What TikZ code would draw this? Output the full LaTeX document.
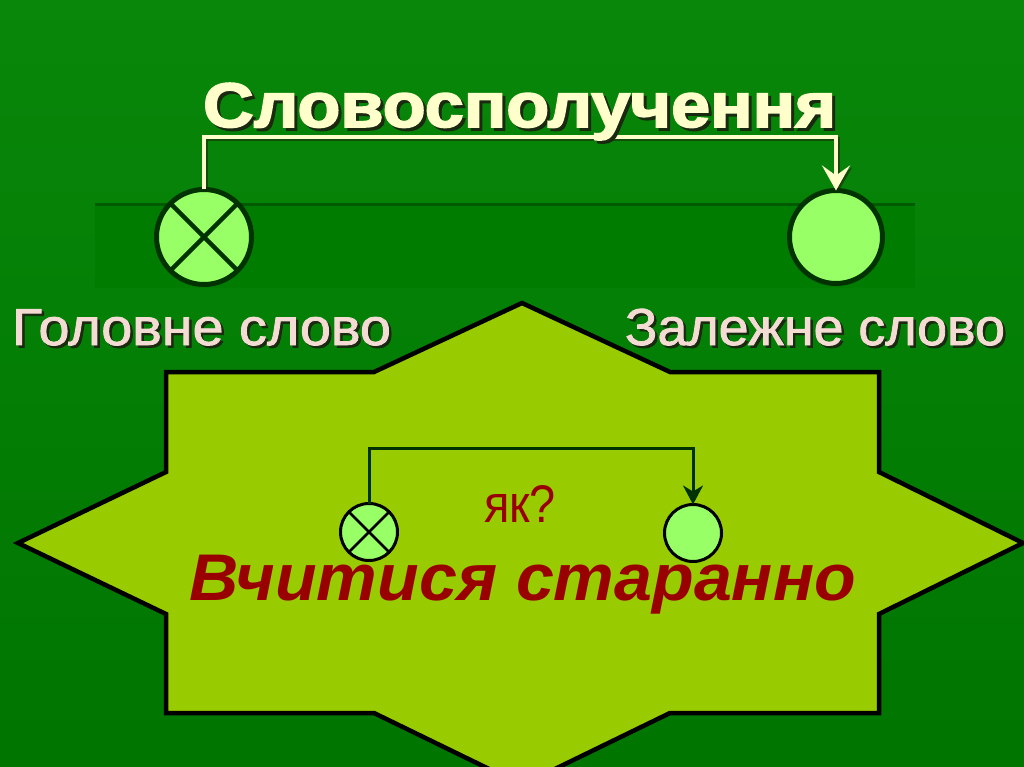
\documentclass[tikz,border=0pt]{standalone}
\usepackage{fontspec}
\setmainfont{Liberation Sans}
\newfontfamily\titlefont{Liberation Sans}[BoldFeatures={FakeBold=2.5}]
\newfontfamily\labelfont{Liberation Sans}[UprightFeatures={FakeBold=1.5}]
\usetikzlibrary{arrows.meta}
\definecolor{bgtop}{HTML}{08870A}
\definecolor{bgbot}{HTML}{007500}
\definecolor{bandc}{HTML}{007D00}
\definecolor{bandline}{HTML}{005A00}
\definecolor{starfill}{HTML}{99CC00}
\definecolor{circfill}{HTML}{99FF66}
\definecolor{circline}{HTML}{003300}
\definecolor{cream}{HTML}{FFFFCC}
\definecolor{pinkish}{HTML}{F4DCD4}
\definecolor{darkred}{HTML}{990000}
\definecolor{shadowc}{HTML}{1A2A10}
\newcommand\myfit[2]{\resizebox{#1}{\height}{#2}}
% text with a drop shadow: #1 offset, #2 colour, #3 text
\newcommand\shadowed[3]{\makebox[0pt][l]{\hspace*{#1}\raisebox{-#1}{\textcolor{shadowc}{#3}}}\textcolor{#2}{#3}}
\begin{document}
\begin{tikzpicture}[x=1pt,y=-1pt,
  txt/.style={anchor=base west,inner sep=0pt,outer sep=0pt},
  bigcirc/.style={circle,draw=circline,fill=circfill,line width=5pt,inner sep=0pt,outer sep=0pt,minimum size=95pt},
  smallcirc/.style={circle,draw=black,fill=circfill,line width=3pt,inner sep=0pt,outer sep=0pt,minimum size=57pt},
  bigcross/.style={draw=circline,line width=4.5pt},
  smallcross/.style={draw=black,line width=2.8pt},
  titleconn/.style={draw=cream,line width=4pt,-{Stealth[length=25pt,width=28pt,inset=10pt]}},
  titleshadow/.style={draw=shadowc,opacity=0.6,line width=4pt,-{Stealth[length=25pt,width=28pt,inset=10pt]}},
  smallconn/.style={draw=circline,line width=3pt,-{Stealth[length=19pt,width=20pt,inset=6pt]}},
  starshape/.style={fill=starfill,draw=black,line width=4.5pt,line join=miter}
]
\useasboundingbox (0,0) rectangle (1024,767);
\clip (0,0) rectangle (1024,767);
\shade[top color=bgtop,bottom color=bgbot] (0,0) rectangle (1024,767);
% darker band
\fill[bandc] (95,205) rectangle (915,288);
\draw[bandline,line width=3pt] (95,205) -- (915,205);
% star
\draw[starshape] (522,303) -- (670,372) -- (879,372) -- (879,472) -- (1023,543)
  -- (879,614) -- (879,713) -- (670,713) -- (522,785) -- (374,713) -- (166,713)
  -- (166,614) -- (18,543) -- (166,472) -- (166,372) -- (374,372) -- cycle;
% big circles
\node[bigcirc] (hw) at (204,237) {};
\node[bigcirc,minimum size=93pt] (dw) at (836,237) {};
\draw[bigcross] (hw.north west) -- (hw.south east);
\draw[bigcross] (hw.north east) -- (hw.south west);
% title connector
\coordinate (bar) at (204,137);
\draw[titleshadow] ([xshift=2pt,yshift=-2pt]hw.north) -- ([xshift=2pt,yshift=-2pt]hw.north |- bar) -| ([xshift=2pt,yshift=-2pt]dw.north);
\draw[titleconn] (hw.north) -- (hw.north |- bar) -| (dw.north);
% title
\node[txt] (title) at (203,127) {\shadowed{3pt}{cream}{\myfit{633pt}{\fontsize{63}{63}\selectfont\titlefont\bfseries Словосполучення}}};
% labels
\node[txt] (head) at (12,345) {\shadowed{2.5pt}{pinkish}{\myfit{379pt}{\fontsize{52}{52}\selectfont\labelfont Головне слово}}};
\node[txt] (dep) at (625,345) {\shadowed{2.5pt}{pinkish}{\myfit{380pt}{\fontsize{52}{52}\selectfont\labelfont Залежне слово}}};
% example
\node[txt,text=darkred] (ex) at (189,600) {\myfit{667pt}{\fontsize{66}{66}\selectfont\bfseries\itshape Вчитися старанно}};
\node[txt,text=darkred] (q) at (484,522) {\myfit{72pt}{\fontsize{53}{53}\selectfont як?}};
\node[smallcirc] (w1) at (369,532) {};
\node[smallcirc] (w2) at (693,533) {};
\draw[smallcross] (w1.north west) -- (w1.south east);
\draw[smallcross] (w1.north east) -- (w1.south west);
\coordinate (sbar) at (369,448);
\draw[smallconn] (w1.north) -- (w1.north |- sbar) -| (w2.north);
\end{tikzpicture}
\end{document}
